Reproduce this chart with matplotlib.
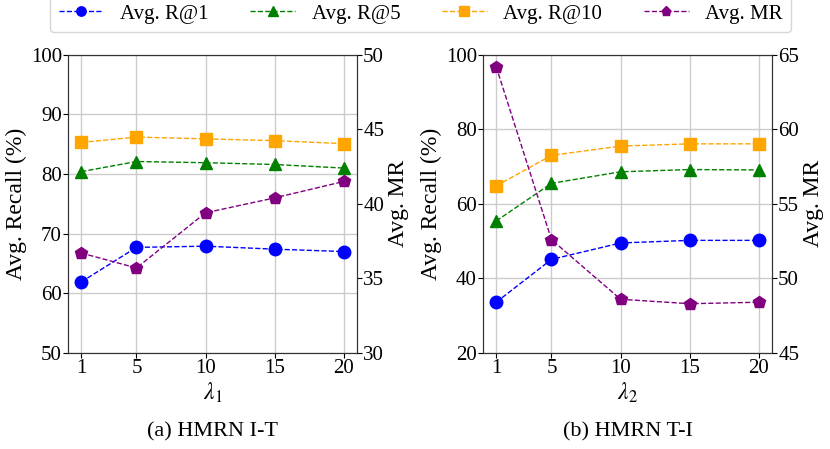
import matplotlib
matplotlib.use("Agg")
import matplotlib.pyplot as plt

plt.rcParams['font.family'] = ['Liberation Serif', 'DejaVu Serif']
plt.rcParams['mathtext.fontset'] = 'stix'

# lambda values on the x axis
Lambdas = [1, 5, 10, 15, 20]

# (a) HMRN I-T
R1_a = [61.9, 67.7, 67.9, 67.4, 67.0]
R5_a = [80.4, 82.1, 81.9, 81.6, 81.0]
R10_a = [85.3, 86.2, 85.9, 85.6, 85.1]
MR_a = [36.7, 35.7, 39.4, 40.4, 41.5]

# (b) HMRN T-I
R1_b = [33.6, 45.1, 49.5, 50.2, 50.2]
R5_b = [55.4, 65.5, 68.6, 69.2, 69.1]
R10_b = [64.8, 73.0, 75.5, 76.1, 76.1]
MR_b = [64.2, 52.6, 48.6, 48.3, 48.4]

Panels = [
    (R1_a, R5_a, R10_a, MR_a, (50, 100), [50, 60, 70, 80, 90, 100], (30, 50), [30, 35, 40, 45, 50],
     r'$\lambda_1$', '(a) HMRN I-T'),
    (R1_b, R5_b, R10_b, MR_b, (20, 100), [20, 40, 60, 80, 100], (45, 65), [45, 50, 55, 60, 65],
     r'$\lambda_2$', '(b) HMRN T-I'),
]

fig = plt.figure(figsize=(8.3, 4.49), dpi=100)
lefts = [0.082, 0.582]
handles = []
for i, (r1, r5, r10, mr, ylim, yticks, ylim2, yticks2, xlab, cap) in enumerate(Panels):
    ax = fig.add_axes([lefts[i], 0.214, 0.348, 0.664])
    ax2 = ax.twinx()
    h1, = ax.plot(Lambdas, r1, '--', color='blue', marker='o', markersize=9, linewidth=1, label='Avg. R@1')
    h2, = ax.plot(Lambdas, r5, '--', color='green', marker='^', markersize=9, linewidth=1, label='Avg. R@5')
    h3, = ax.plot(Lambdas, r10, '--', color='orange', marker='s', markersize=9, linewidth=1, label='Avg. R@10')
    h4, = ax2.plot(Lambdas, mr, '--', color='purple', marker='p', markersize=9, linewidth=1, label='Avg. MR')
    handles = [h1, h2, h3, h4]
    ax.set_ylim(*ylim)
    ax.set_yticks(yticks)
    ax2.set_ylim(*ylim2)
    ax2.set_yticks(yticks2)
    ax.set_xticks(Lambdas)
    ax.grid(True, color='#cccccc', linewidth=1)
    ax.set_axisbelow(True)
    ax.tick_params(labelsize=15, length=3.5, pad=1)
    ax2.tick_params(labelsize=15, length=3.5, pad=1)
    ax.set_ylabel('Avg. Recall (%)', fontsize=17, labelpad=3)
    ax2.set_ylabel('Avg. MR', fontsize=17, labelpad=3)
    ax.set_xlabel(xlab, fontsize=17, labelpad=2)
    for sp in list(ax.spines.values()) + list(ax2.spines.values()):
        sp.set_color('#333333')
    fig.text(lefts[i] + 0.174, 0.038, cap, ha='center', va='center', fontsize=16)

fig.legend(handles=handles, loc='lower center', bbox_to_anchor=(0.507, 0.929), ncol=4, fontsize=15,
           frameon=True, columnspacing=2.0, handlelength=2.15, handletextpad=0.8,
           markerscale=0.75, borderpad=0.4, borderaxespad=0)

fig.savefig('out.png', dpi=100)
